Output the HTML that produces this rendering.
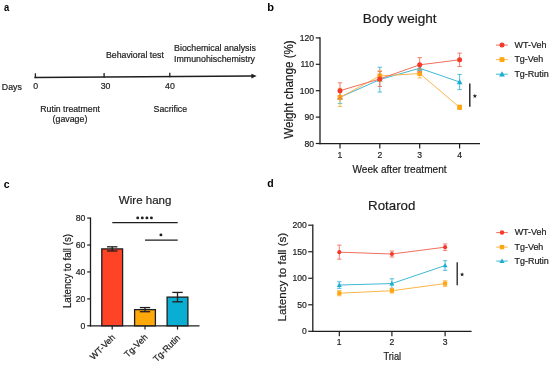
<!DOCTYPE html>
<html><head><meta charset="utf-8"><style>
html,body{margin:0;padding:0;background:#fff;}
svg{display:block;will-change:transform;font-family:"Liberation Sans",sans-serif;}
</style></head><body>
<svg width="550" height="365" viewBox="0 0 550 365">
<rect width="550" height="365" fill="#fff"/>
<text x="3.97" y="11.40" font-size="10.90" font-weight="bold" fill="#000" textLength="5.22" lengthAdjust="spacingAndGlyphs">a</text>
<line x1="34.40" y1="77.60" x2="252.00" y2="76.10" stroke="#1e1e1e" stroke-width="1.55"/>
<path d="M251.4,73.65 L256.6,76.07 L251.4,78.55 Z" fill="#1e1e1e" stroke="none" stroke-width="1"/>
<line x1="35.40" y1="73.30" x2="35.40" y2="78.10" stroke="#1e1e1e" stroke-width="1.3"/>
<line x1="104.10" y1="73.02" x2="104.10" y2="77.62" stroke="#1e1e1e" stroke-width="1.3"/>
<line x1="169.80" y1="72.76" x2="169.80" y2="77.17" stroke="#1e1e1e" stroke-width="1.3"/>
<text x="1.82" y="89.60" font-size="8.75" fill="#1c1c1c" stroke="#1c1c1c" stroke-width="0.2" textLength="20.04" lengthAdjust="spacingAndGlyphs">Days</text>
<text x="33.21" y="89.10" font-size="9.28" fill="#1c1c1c" stroke="#1c1c1c" stroke-width="0.2" textLength="4.87" lengthAdjust="spacingAndGlyphs">0</text>
<text x="100.64" y="89.10" font-size="9.28" fill="#1c1c1c" stroke="#1c1c1c" stroke-width="0.2" textLength="9.73" lengthAdjust="spacingAndGlyphs">30</text>
<text x="165.11" y="88.90" font-size="9.28" fill="#1c1c1c" stroke="#1c1c1c" stroke-width="0.2" textLength="9.73" lengthAdjust="spacingAndGlyphs">40</text>
<text x="106.03" y="57.60" font-size="8.75" fill="#1c1c1c" stroke="#1c1c1c" stroke-width="0.2" textLength="57.89" lengthAdjust="spacingAndGlyphs">Behavioral test</text>
<text x="174.12" y="51.40" font-size="8.75" fill="#1c1c1c" stroke="#1c1c1c" stroke-width="0.2" textLength="81.73" lengthAdjust="spacingAndGlyphs">Biochemical analysis</text>
<text x="174.03" y="61.90" font-size="8.75" fill="#1c1c1c" stroke="#1c1c1c" stroke-width="0.2" textLength="81.03" lengthAdjust="spacingAndGlyphs">Immunohischemistry</text>
<text x="40.33" y="111.50" font-size="8.75" fill="#1c1c1c" stroke="#1c1c1c" stroke-width="0.2" textLength="59.58" lengthAdjust="spacingAndGlyphs">Rutin treatment</text>
<text x="52.60" y="121.60" font-size="8.75" fill="#1c1c1c" stroke="#1c1c1c" stroke-width="0.2" textLength="34.77" lengthAdjust="spacingAndGlyphs">(gavage)</text>
<text x="153.56" y="111.60" font-size="8.75" fill="#1c1c1c" stroke="#1c1c1c" stroke-width="0.2" textLength="33.58" lengthAdjust="spacingAndGlyphs">Sacrifice</text>
<text x="267.13" y="10.95" font-size="11.09" font-weight="bold" fill="#000" textLength="6.77" lengthAdjust="spacingAndGlyphs">b</text>
<text x="362.73" y="23.00" font-size="13.55" fill="#1c1c1c" stroke="#1c1c1c" stroke-width="0.2" textLength="73.83" lengthAdjust="spacingAndGlyphs">Body weight</text>
<line x1="320.00" y1="37.30" x2="320.00" y2="144.25" stroke="#1e1e1e" stroke-width="1.3"/>
<line x1="319.35" y1="143.60" x2="480.00" y2="143.60" stroke="#1e1e1e" stroke-width="1.3"/>
<line x1="315.80" y1="37.90" x2="320.00" y2="37.90" stroke="#1e1e1e" stroke-width="1.2"/>
<text x="299.78" y="41.04" font-size="9.12" fill="#1c1c1c" stroke="#1c1c1c" stroke-width="0.2" textLength="14.35" lengthAdjust="spacingAndGlyphs">120</text>
<line x1="315.80" y1="64.30" x2="320.00" y2="64.30" stroke="#1e1e1e" stroke-width="1.2"/>
<text x="300.43" y="67.44" font-size="9.12" fill="#1c1c1c" stroke="#1c1c1c" stroke-width="0.2" textLength="13.71" lengthAdjust="spacingAndGlyphs">110</text>
<line x1="315.80" y1="90.70" x2="320.00" y2="90.70" stroke="#1e1e1e" stroke-width="1.2"/>
<text x="299.78" y="93.84" font-size="9.12" fill="#1c1c1c" stroke="#1c1c1c" stroke-width="0.2" textLength="14.35" lengthAdjust="spacingAndGlyphs">100</text>
<line x1="315.80" y1="117.10" x2="320.00" y2="117.10" stroke="#1e1e1e" stroke-width="1.2"/>
<text x="304.58" y="120.24" font-size="9.12" fill="#1c1c1c" stroke="#1c1c1c" stroke-width="0.2" textLength="9.57" lengthAdjust="spacingAndGlyphs">90</text>
<line x1="315.80" y1="143.50" x2="320.00" y2="143.50" stroke="#1e1e1e" stroke-width="1.2"/>
<text x="304.58" y="146.64" font-size="9.12" fill="#1c1c1c" stroke="#1c1c1c" stroke-width="0.2" textLength="9.57" lengthAdjust="spacingAndGlyphs">80</text>
<line x1="340.00" y1="143.60" x2="340.00" y2="148.40" stroke="#1e1e1e" stroke-width="1.2"/>
<text x="337.50" y="157.60" font-size="9.12" fill="#1c1c1c" stroke="#1c1c1c" stroke-width="0.2" textLength="4.78" lengthAdjust="spacingAndGlyphs">1</text>
<line x1="379.80" y1="143.60" x2="379.80" y2="148.40" stroke="#1e1e1e" stroke-width="1.2"/>
<text x="377.41" y="157.60" font-size="9.12" fill="#1c1c1c" stroke="#1c1c1c" stroke-width="0.2" textLength="4.78" lengthAdjust="spacingAndGlyphs">2</text>
<line x1="419.70" y1="143.60" x2="419.70" y2="148.40" stroke="#1e1e1e" stroke-width="1.2"/>
<text x="417.33" y="157.60" font-size="9.12" fill="#1c1c1c" stroke="#1c1c1c" stroke-width="0.2" textLength="4.78" lengthAdjust="spacingAndGlyphs">3</text>
<line x1="459.60" y1="143.60" x2="459.60" y2="148.40" stroke="#1e1e1e" stroke-width="1.2"/>
<text x="457.24" y="157.60" font-size="9.12" fill="#1c1c1c" stroke="#1c1c1c" stroke-width="0.2" textLength="4.78" lengthAdjust="spacingAndGlyphs">4</text>
<text x="352.50" y="172.80" font-size="10.50" fill="#1c1c1c" stroke="#1c1c1c" stroke-width="0.2" textLength="94.12" lengthAdjust="spacingAndGlyphs">Week after treatment</text>
<text transform="translate(0,0) rotate(-90)" x="-138.71" y="293.30" font-size="12.00" fill="#1c1c1c" stroke="#1c1c1c" stroke-width="0.2" textLength="98.37" lengthAdjust="spacingAndGlyphs">Weight change (%)</text>
<polyline points="340.00,97.30 379.80,79.61 419.70,68.26 459.60,81.99" fill="none" stroke="#3fb8d6" stroke-width="1"/>
<line x1="340.00" y1="91.00" x2="340.00" y2="103.60" stroke="#3fb8d6" stroke-width="0.9"/>
<line x1="337.80" y1="91.00" x2="342.20" y2="91.00" stroke="#3fb8d6" stroke-width="0.9"/>
<line x1="337.80" y1="103.60" x2="342.20" y2="103.60" stroke="#3fb8d6" stroke-width="0.9"/>
<line x1="379.80" y1="67.21" x2="379.80" y2="92.01" stroke="#3fb8d6" stroke-width="0.9"/>
<line x1="377.60" y1="67.21" x2="382.00" y2="67.21" stroke="#3fb8d6" stroke-width="0.9"/>
<line x1="377.60" y1="92.01" x2="382.00" y2="92.01" stroke="#3fb8d6" stroke-width="0.9"/>
<line x1="419.70" y1="65.76" x2="419.70" y2="70.76" stroke="#3fb8d6" stroke-width="0.9"/>
<line x1="417.50" y1="65.76" x2="421.90" y2="65.76" stroke="#3fb8d6" stroke-width="0.9"/>
<line x1="417.50" y1="70.76" x2="421.90" y2="70.76" stroke="#3fb8d6" stroke-width="0.9"/>
<line x1="459.60" y1="74.39" x2="459.60" y2="89.59" stroke="#3fb8d6" stroke-width="0.9"/>
<line x1="457.40" y1="74.39" x2="461.80" y2="74.39" stroke="#3fb8d6" stroke-width="0.9"/>
<line x1="457.40" y1="89.59" x2="461.80" y2="89.59" stroke="#3fb8d6" stroke-width="0.9"/>
<path d="M340.00,94.40 L342.90,99.47 L337.10,99.47 Z" fill="#1badd0"/>
<path d="M379.80,76.71 L382.70,81.79 L376.90,81.79 Z" fill="#1badd0"/>
<path d="M419.70,65.36 L422.60,70.44 L416.80,70.44 Z" fill="#1badd0"/>
<path d="M459.60,79.09 L462.50,84.16 L456.70,84.16 Z" fill="#1badd0"/>
<polyline points="340.00,97.43 379.80,75.92 419.70,73.54 459.60,107.33" fill="none" stroke="#fbb54a" stroke-width="1"/>
<line x1="340.00" y1="88.33" x2="340.00" y2="106.53" stroke="#fbb54a" stroke-width="0.9"/>
<line x1="337.80" y1="88.33" x2="342.20" y2="88.33" stroke="#fbb54a" stroke-width="0.9"/>
<line x1="337.80" y1="106.53" x2="342.20" y2="106.53" stroke="#fbb54a" stroke-width="0.9"/>
<line x1="379.80" y1="70.32" x2="379.80" y2="81.52" stroke="#fbb54a" stroke-width="0.9"/>
<line x1="377.60" y1="70.32" x2="382.00" y2="70.32" stroke="#fbb54a" stroke-width="0.9"/>
<line x1="377.60" y1="81.52" x2="382.00" y2="81.52" stroke="#fbb54a" stroke-width="0.9"/>
<line x1="419.70" y1="69.04" x2="419.70" y2="78.04" stroke="#fbb54a" stroke-width="0.9"/>
<line x1="417.50" y1="69.04" x2="421.90" y2="69.04" stroke="#fbb54a" stroke-width="0.9"/>
<line x1="417.50" y1="78.04" x2="421.90" y2="78.04" stroke="#fbb54a" stroke-width="0.9"/>
<line x1="459.60" y1="105.13" x2="459.60" y2="109.53" stroke="#fbb54a" stroke-width="0.9"/>
<line x1="457.40" y1="105.13" x2="461.80" y2="105.13" stroke="#fbb54a" stroke-width="0.9"/>
<line x1="457.40" y1="109.53" x2="461.80" y2="109.53" stroke="#fbb54a" stroke-width="0.9"/>
<rect x="337.60" y="95.03" width="4.80" height="4.80" fill="#ffa60f"/>
<rect x="377.40" y="73.52" width="4.80" height="4.80" fill="#ffa60f"/>
<rect x="417.30" y="71.14" width="4.80" height="4.80" fill="#ffa60f"/>
<rect x="457.20" y="104.93" width="4.80" height="4.80" fill="#ffa60f"/>
<polyline points="340.00,90.70 379.80,78.95 419.70,64.83 459.60,59.81" fill="none" stroke="#f0705e" stroke-width="1"/>
<line x1="340.00" y1="82.80" x2="340.00" y2="98.60" stroke="#f0705e" stroke-width="0.9"/>
<line x1="337.80" y1="82.80" x2="342.20" y2="82.80" stroke="#f0705e" stroke-width="0.9"/>
<line x1="337.80" y1="98.60" x2="342.20" y2="98.60" stroke="#f0705e" stroke-width="0.9"/>
<line x1="379.80" y1="71.45" x2="379.80" y2="86.45" stroke="#f0705e" stroke-width="0.9"/>
<line x1="377.60" y1="71.45" x2="382.00" y2="71.45" stroke="#f0705e" stroke-width="0.9"/>
<line x1="377.60" y1="86.45" x2="382.00" y2="86.45" stroke="#f0705e" stroke-width="0.9"/>
<line x1="419.70" y1="57.63" x2="419.70" y2="72.03" stroke="#f0705e" stroke-width="0.9"/>
<line x1="417.50" y1="57.63" x2="421.90" y2="57.63" stroke="#f0705e" stroke-width="0.9"/>
<line x1="417.50" y1="72.03" x2="421.90" y2="72.03" stroke="#f0705e" stroke-width="0.9"/>
<line x1="459.60" y1="53.11" x2="459.60" y2="66.51" stroke="#f0705e" stroke-width="0.9"/>
<line x1="457.40" y1="53.11" x2="461.80" y2="53.11" stroke="#f0705e" stroke-width="0.9"/>
<line x1="457.40" y1="66.51" x2="461.80" y2="66.51" stroke="#f0705e" stroke-width="0.9"/>
<circle cx="340.00" cy="90.70" r="2.50" fill="#f3392a"/>
<circle cx="379.80" cy="78.95" r="2.50" fill="#f3392a"/>
<circle cx="419.70" cy="64.83" r="2.50" fill="#f3392a"/>
<circle cx="459.60" cy="59.81" r="2.50" fill="#f3392a"/>
<line x1="496.00" y1="45.10" x2="507.80" y2="45.10" stroke="#f0705e" stroke-width="1"/>
<circle cx="502.00" cy="45.10" r="2.50" fill="#f3392a"/>
<line x1="496.00" y1="59.60" x2="507.80" y2="59.60" stroke="#fbb54a" stroke-width="1"/>
<rect x="499.60" y="57.20" width="4.80" height="4.80" fill="#ffa60f"/>
<line x1="496.00" y1="74.20" x2="507.80" y2="74.20" stroke="#3fb8d6" stroke-width="1"/>
<path d="M502.00,71.30 L504.90,76.38 L499.10,76.38 Z" fill="#1badd0"/>
<text x="514.56" y="47.60" font-size="8.95" fill="#1c1c1c" stroke="#1c1c1c" stroke-width="0.2" textLength="31.83" lengthAdjust="spacingAndGlyphs">WT-Veh</text>
<text x="514.40" y="62.10" font-size="8.95" fill="#1c1c1c" stroke="#1c1c1c" stroke-width="0.2" textLength="28.86" lengthAdjust="spacingAndGlyphs">Tg-Veh</text>
<text x="514.40" y="76.70" font-size="8.95" fill="#1c1c1c" stroke="#1c1c1c" stroke-width="0.2" textLength="34.32" lengthAdjust="spacingAndGlyphs">Tg-Rutin</text>
<line x1="469.80" y1="83.60" x2="469.80" y2="106.70" stroke="#1e1e1e" stroke-width="1.4"/>
<polygon points="474.90,93.80 474.33,95.32 472.71,95.39 473.98,96.40 473.55,97.96 474.90,97.07 476.25,97.96 475.82,96.40 477.09,95.39 475.47,95.32" fill="#1e1e1e"/>
<text x="3.83" y="187.50" font-size="10.90" font-weight="bold" fill="#000" textLength="5.82" lengthAdjust="spacingAndGlyphs">c</text>
<text x="118.89" y="204.10" font-size="11.51" fill="#1c1c1c" stroke="#1c1c1c" stroke-width="0.2" textLength="52.48" lengthAdjust="spacingAndGlyphs">Wire hang</text>
<line x1="90.50" y1="217.48" x2="90.50" y2="326.45" stroke="#1e1e1e" stroke-width="1.3"/>
<line x1="89.85" y1="325.80" x2="199.50" y2="325.80" stroke="#1e1e1e" stroke-width="1.3"/>
<line x1="87.20" y1="218.08" x2="90.50" y2="218.08" stroke="#1e1e1e" stroke-width="1.2"/>
<text x="75.77" y="221.25" font-size="9.22" fill="#1c1c1c" stroke="#1c1c1c" stroke-width="0.2" textLength="9.68" lengthAdjust="spacingAndGlyphs">80</text>
<line x1="87.20" y1="245.01" x2="90.50" y2="245.01" stroke="#1e1e1e" stroke-width="1.2"/>
<text x="75.77" y="248.18" font-size="9.22" fill="#1c1c1c" stroke="#1c1c1c" stroke-width="0.2" textLength="9.68" lengthAdjust="spacingAndGlyphs">60</text>
<line x1="87.20" y1="271.94" x2="90.50" y2="271.94" stroke="#1e1e1e" stroke-width="1.2"/>
<text x="75.77" y="275.11" font-size="9.22" fill="#1c1c1c" stroke="#1c1c1c" stroke-width="0.2" textLength="9.68" lengthAdjust="spacingAndGlyphs">40</text>
<line x1="87.20" y1="298.87" x2="90.50" y2="298.87" stroke="#1e1e1e" stroke-width="1.2"/>
<text x="75.77" y="302.04" font-size="9.22" fill="#1c1c1c" stroke="#1c1c1c" stroke-width="0.2" textLength="9.68" lengthAdjust="spacingAndGlyphs">20</text>
<line x1="87.20" y1="325.80" x2="90.50" y2="325.80" stroke="#1e1e1e" stroke-width="1.2"/>
<text x="80.60" y="328.97" font-size="9.22" fill="#1c1c1c" stroke="#1c1c1c" stroke-width="0.2" textLength="4.84" lengthAdjust="spacingAndGlyphs">0</text>
<text transform="translate(0,0) rotate(-90)" x="-308.05" y="71.20" font-size="10.20" fill="#1c1c1c" stroke="#1c1c1c" stroke-width="0.2" textLength="74.08" lengthAdjust="spacingAndGlyphs">Latency to fall (s)</text>
<rect x="101.80" y="248.91" width="20.8" height="76.89" fill="#ff4326" stroke="#1e1e1e" stroke-width="1.3"/>
<line x1="112.20" y1="246.83" x2="112.20" y2="251.00" stroke="#1e1e1e" stroke-width="1.3"/>
<line x1="107.00" y1="246.83" x2="117.40" y2="246.83" stroke="#1e1e1e" stroke-width="1.3"/>
<line x1="107.00" y1="251.00" x2="117.40" y2="251.00" stroke="#1e1e1e" stroke-width="1.3"/>
<line x1="112.20" y1="325.80" x2="112.20" y2="329.60" stroke="#1e1e1e" stroke-width="1.2"/>
<rect x="134.60" y="309.64" width="20.8" height="16.16" fill="#ffa80a" stroke="#1e1e1e" stroke-width="1.3"/>
<line x1="145.00" y1="307.56" x2="145.00" y2="311.72" stroke="#1e1e1e" stroke-width="1.3"/>
<line x1="139.80" y1="307.56" x2="150.20" y2="307.56" stroke="#1e1e1e" stroke-width="1.3"/>
<line x1="139.80" y1="311.72" x2="150.20" y2="311.72" stroke="#1e1e1e" stroke-width="1.3"/>
<line x1="145.00" y1="325.80" x2="145.00" y2="329.60" stroke="#1e1e1e" stroke-width="1.2"/>
<rect x="167.10" y="297.12" width="20.8" height="28.68" fill="#0aaed3" stroke="#1e1e1e" stroke-width="1.3"/>
<line x1="177.50" y1="292.42" x2="177.50" y2="301.82" stroke="#1e1e1e" stroke-width="1.3"/>
<line x1="172.30" y1="292.42" x2="182.70" y2="292.42" stroke="#1e1e1e" stroke-width="1.3"/>
<line x1="172.30" y1="301.82" x2="182.70" y2="301.82" stroke="#1e1e1e" stroke-width="1.3"/>
<line x1="177.50" y1="325.80" x2="177.50" y2="329.60" stroke="#1e1e1e" stroke-width="1.2"/>
<line x1="112.30" y1="222.60" x2="177.70" y2="222.60" stroke="#1e1e1e" stroke-width="1.3"/>
<line x1="145.00" y1="240.10" x2="177.70" y2="240.10" stroke="#1e1e1e" stroke-width="1.3"/>
<circle cx="137.70" cy="217.90" r="1.45" fill="#1e1e1e"/>
<circle cx="142.30" cy="217.90" r="1.45" fill="#1e1e1e"/>
<circle cx="146.90" cy="217.90" r="1.45" fill="#1e1e1e"/>
<circle cx="151.40" cy="217.90" r="1.45" fill="#1e1e1e"/>
<circle cx="160.90" cy="234.90" r="1.45" fill="#1e1e1e"/>
<text transform="translate(111.19999999999999,334.09999999999997) rotate(-45)" x="-31.08" y="6.00" font-size="8.90" fill="#1c1c1c" stroke="#1c1c1c" stroke-width="0.2" textLength="31.66" lengthAdjust="spacingAndGlyphs">WT-Veh</text>
<text transform="translate(143.5,333.9) rotate(-45)" x="-28.12" y="6.00" font-size="8.90" fill="#1c1c1c" stroke="#1c1c1c" stroke-width="0.2" textLength="28.70" lengthAdjust="spacingAndGlyphs">Tg-Veh</text>
<text transform="translate(176.2,334.59999999999997) rotate(-45)" x="-33.55" y="6.00" font-size="8.90" fill="#1c1c1c" stroke="#1c1c1c" stroke-width="0.2" textLength="34.13" lengthAdjust="spacingAndGlyphs">Tg-Rutin</text>
<text x="267.23" y="187.10" font-size="10.50" font-weight="bold" fill="#000" textLength="6.41" lengthAdjust="spacingAndGlyphs">d</text>
<text x="368.05" y="209.60" font-size="13.30" fill="#1c1c1c" stroke="#1c1c1c" stroke-width="0.2" textLength="47.33" lengthAdjust="spacingAndGlyphs">Rotarod</text>
<line x1="312.80" y1="224.60" x2="312.80" y2="331.95" stroke="#1e1e1e" stroke-width="1.3"/>
<line x1="312.15" y1="331.30" x2="471.60" y2="331.30" stroke="#1e1e1e" stroke-width="1.3"/>
<line x1="308.20" y1="225.20" x2="312.80" y2="225.20" stroke="#1e1e1e" stroke-width="1.2"/>
<text x="292.48" y="228.34" font-size="9.12" fill="#1c1c1c" stroke="#1c1c1c" stroke-width="0.2" textLength="14.35" lengthAdjust="spacingAndGlyphs">200</text>
<line x1="308.20" y1="251.73" x2="312.80" y2="251.73" stroke="#1e1e1e" stroke-width="1.2"/>
<text x="292.48" y="254.86" font-size="9.12" fill="#1c1c1c" stroke="#1c1c1c" stroke-width="0.2" textLength="14.35" lengthAdjust="spacingAndGlyphs">150</text>
<line x1="308.20" y1="278.25" x2="312.80" y2="278.25" stroke="#1e1e1e" stroke-width="1.2"/>
<text x="292.48" y="281.39" font-size="9.12" fill="#1c1c1c" stroke="#1c1c1c" stroke-width="0.2" textLength="14.35" lengthAdjust="spacingAndGlyphs">100</text>
<line x1="308.20" y1="304.78" x2="312.80" y2="304.78" stroke="#1e1e1e" stroke-width="1.2"/>
<text x="297.28" y="307.91" font-size="9.12" fill="#1c1c1c" stroke="#1c1c1c" stroke-width="0.2" textLength="9.57" lengthAdjust="spacingAndGlyphs">50</text>
<line x1="308.20" y1="331.30" x2="312.80" y2="331.30" stroke="#1e1e1e" stroke-width="1.2"/>
<text x="302.05" y="334.44" font-size="9.12" fill="#1c1c1c" stroke="#1c1c1c" stroke-width="0.2" textLength="4.78" lengthAdjust="spacingAndGlyphs">0</text>
<line x1="339.30" y1="331.30" x2="339.30" y2="336.30" stroke="#1e1e1e" stroke-width="1.2"/>
<text x="336.80" y="344.60" font-size="9.12" fill="#1c1c1c" stroke="#1c1c1c" stroke-width="0.2" textLength="4.78" lengthAdjust="spacingAndGlyphs">1</text>
<line x1="391.90" y1="331.30" x2="391.90" y2="336.30" stroke="#1e1e1e" stroke-width="1.2"/>
<text x="389.51" y="344.60" font-size="9.12" fill="#1c1c1c" stroke="#1c1c1c" stroke-width="0.2" textLength="4.78" lengthAdjust="spacingAndGlyphs">2</text>
<line x1="445.10" y1="331.30" x2="445.10" y2="336.30" stroke="#1e1e1e" stroke-width="1.2"/>
<text x="442.74" y="344.60" font-size="9.12" fill="#1c1c1c" stroke="#1c1c1c" stroke-width="0.2" textLength="4.78" lengthAdjust="spacingAndGlyphs">3</text>
<text x="383.44" y="360.00" font-size="10.00" fill="#1c1c1c" stroke="#1c1c1c" stroke-width="0.2" textLength="17.74" lengthAdjust="spacingAndGlyphs">Trial</text>
<text transform="translate(0,0) rotate(-90)" x="-321.41" y="286.30" font-size="11.64" fill="#1c1c1c" stroke="#1c1c1c" stroke-width="0.2" textLength="88.65" lengthAdjust="spacingAndGlyphs">Latency to fall (s)</text>
<polyline points="339.30,285.04 391.90,283.56 445.10,265.52" fill="none" stroke="#3fb8d6" stroke-width="1"/>
<line x1="339.30" y1="281.74" x2="339.30" y2="288.34" stroke="#3fb8d6" stroke-width="0.9"/>
<line x1="337.10" y1="281.74" x2="341.50" y2="281.74" stroke="#3fb8d6" stroke-width="0.9"/>
<line x1="337.10" y1="288.34" x2="341.50" y2="288.34" stroke="#3fb8d6" stroke-width="0.9"/>
<line x1="391.90" y1="278.75" x2="391.90" y2="288.36" stroke="#3fb8d6" stroke-width="0.9"/>
<line x1="389.70" y1="278.75" x2="394.10" y2="278.75" stroke="#3fb8d6" stroke-width="0.9"/>
<line x1="389.70" y1="288.36" x2="394.10" y2="288.36" stroke="#3fb8d6" stroke-width="0.9"/>
<line x1="445.10" y1="260.72" x2="445.10" y2="270.32" stroke="#3fb8d6" stroke-width="0.9"/>
<line x1="442.90" y1="260.72" x2="447.30" y2="260.72" stroke="#3fb8d6" stroke-width="0.9"/>
<line x1="442.90" y1="270.32" x2="447.30" y2="270.32" stroke="#3fb8d6" stroke-width="0.9"/>
<path d="M339.30,282.58 L341.76,286.89 L336.84,286.89 Z" fill="#1badd0"/>
<path d="M391.90,281.09 L394.36,285.40 L389.44,285.40 Z" fill="#1badd0"/>
<path d="M445.10,263.05 L447.56,267.37 L442.64,267.37 Z" fill="#1badd0"/>
<polyline points="339.30,293.21 391.90,290.72 445.10,283.56" fill="none" stroke="#fbb54a" stroke-width="1"/>
<line x1="339.30" y1="290.61" x2="339.30" y2="295.81" stroke="#fbb54a" stroke-width="0.9"/>
<line x1="337.10" y1="290.61" x2="341.50" y2="290.61" stroke="#fbb54a" stroke-width="0.9"/>
<line x1="337.10" y1="295.81" x2="341.50" y2="295.81" stroke="#fbb54a" stroke-width="0.9"/>
<line x1="391.90" y1="288.42" x2="391.90" y2="293.02" stroke="#fbb54a" stroke-width="0.9"/>
<line x1="389.70" y1="288.42" x2="394.10" y2="288.42" stroke="#fbb54a" stroke-width="0.9"/>
<line x1="389.70" y1="293.02" x2="394.10" y2="293.02" stroke="#fbb54a" stroke-width="0.9"/>
<line x1="445.10" y1="280.75" x2="445.10" y2="286.36" stroke="#fbb54a" stroke-width="0.9"/>
<line x1="442.90" y1="280.75" x2="447.30" y2="280.75" stroke="#fbb54a" stroke-width="0.9"/>
<line x1="442.90" y1="286.36" x2="447.30" y2="286.36" stroke="#fbb54a" stroke-width="0.9"/>
<rect x="337.26" y="291.17" width="4.08" height="4.08" fill="#ffa60f"/>
<rect x="389.86" y="288.68" width="4.08" height="4.08" fill="#ffa60f"/>
<rect x="443.06" y="281.51" width="4.08" height="4.08" fill="#ffa60f"/>
<polyline points="339.30,252.15 391.90,254.01 445.10,247.16" fill="none" stroke="#f0705e" stroke-width="1"/>
<line x1="339.30" y1="245.15" x2="339.30" y2="259.15" stroke="#f0705e" stroke-width="0.9"/>
<line x1="337.10" y1="245.15" x2="341.50" y2="245.15" stroke="#f0705e" stroke-width="0.9"/>
<line x1="337.10" y1="259.15" x2="341.50" y2="259.15" stroke="#f0705e" stroke-width="0.9"/>
<line x1="391.90" y1="251.01" x2="391.90" y2="257.01" stroke="#f0705e" stroke-width="0.9"/>
<line x1="389.70" y1="251.01" x2="394.10" y2="251.01" stroke="#f0705e" stroke-width="0.9"/>
<line x1="389.70" y1="257.01" x2="394.10" y2="257.01" stroke="#f0705e" stroke-width="0.9"/>
<line x1="445.10" y1="243.96" x2="445.10" y2="250.36" stroke="#f0705e" stroke-width="0.9"/>
<line x1="442.90" y1="243.96" x2="447.30" y2="243.96" stroke="#f0705e" stroke-width="0.9"/>
<line x1="442.90" y1="250.36" x2="447.30" y2="250.36" stroke="#f0705e" stroke-width="0.9"/>
<circle cx="339.30" cy="252.15" r="2.05" fill="#f3392a"/>
<circle cx="391.90" cy="254.01" r="2.05" fill="#f3392a"/>
<circle cx="445.10" cy="247.16" r="2.05" fill="#f3392a"/>
<line x1="496.20" y1="232.60" x2="507.80" y2="232.60" stroke="#f0705e" stroke-width="1"/>
<circle cx="502.00" cy="232.60" r="2.25" fill="#f3392a"/>
<line x1="496.20" y1="247.10" x2="507.80" y2="247.10" stroke="#fbb54a" stroke-width="1"/>
<rect x="499.84" y="244.94" width="4.32" height="4.32" fill="#ffa60f"/>
<line x1="496.20" y1="261.10" x2="507.80" y2="261.10" stroke="#3fb8d6" stroke-width="1"/>
<path d="M502.00,258.49 L504.61,263.06 L499.39,263.06 Z" fill="#1badd0"/>
<text x="514.66" y="235.40" font-size="8.95" fill="#1c1c1c" stroke="#1c1c1c" stroke-width="0.2" textLength="31.83" lengthAdjust="spacingAndGlyphs">WT-Veh</text>
<text x="514.50" y="249.90" font-size="8.95" fill="#1c1c1c" stroke="#1c1c1c" stroke-width="0.2" textLength="28.86" lengthAdjust="spacingAndGlyphs">Tg-Veh</text>
<text x="514.50" y="264.00" font-size="8.95" fill="#1c1c1c" stroke="#1c1c1c" stroke-width="0.2" textLength="34.32" lengthAdjust="spacingAndGlyphs">Tg-Rutin</text>
<line x1="457.20" y1="262.20" x2="457.20" y2="285.20" stroke="#1e1e1e" stroke-width="1.3"/>
<polygon points="462.10,272.20 461.53,273.72 459.91,273.79 461.18,274.80 460.75,276.36 462.10,275.47 463.45,276.36 463.02,274.80 464.29,273.79 462.67,273.72" fill="#1e1e1e"/>
</svg></body></html>
